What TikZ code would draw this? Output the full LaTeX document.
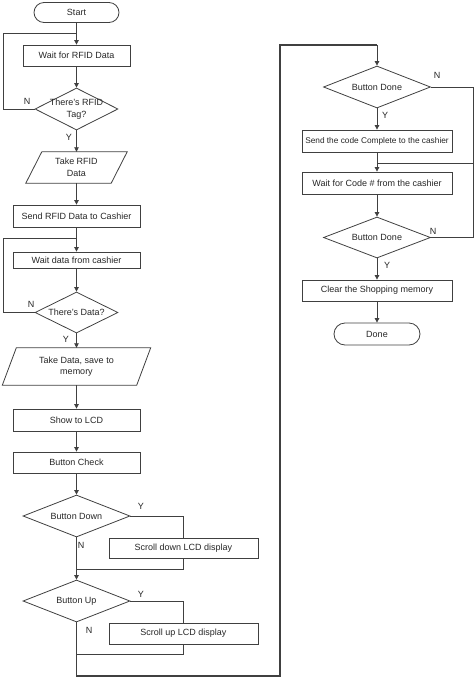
\documentclass[tikz,border=0pt]{standalone}
\usepackage{fontspec}
\setmainfont{Liberation Sans}
\usetikzlibrary{shapes.geometric,arrows.meta}
\begin{document}
\begin{tikzpicture}[x=1pt,y=-1pt,
 every node/.style={font=\fontsize{9}{12}\selectfont, text=black!85},
 box/.style={draw=black!75, line width=0.8pt, rectangle, inner sep=0pt, align=center},
 term/.style={box, rounded corners=10pt},
 dia/.style={draw=black!75, line width=0.8pt, diamond, inner sep=0pt},
 io/.style={inner sep=0pt, align=center, font=\fontsize{9}{11.5}\selectfont},
 line/.style={draw=black!75, line width=0.8pt},
 arr/.style={line, -{Triangle[length=4.5pt,width=4.5pt]}},
 lab/.style={inner sep=0pt}]
\useasboundingbox (0,0) rectangle (474,678);
% left column
\node[term, minimum width=85, minimum height=20] (start) at (76.5,12.5) {Start};
\node[box, minimum width=107, minimum height=21] (w1) at (76.5,55.5) {Wait for RFID Data};
\node[dia, minimum width=83, minimum height=42, label={[align=center]center:There's RFID\\Tag?}] (d1) at (76.5,109) {};
\node[io, minimum width=101, minimum height=31] (t1) at (76.5,167.5) {Take RFID\\Data};
\draw[line] (t1.south west) -- ([xshift=16]t1.north west) -- (t1.north east) -- ([xshift=-16]t1.south east) -- cycle;
\node[box, minimum width=127, minimum height=22] (s1) at (76.5,216) {Send RFID Data to Cashier};
\node[box, minimum width=127, minimum height=16] (w2) at (76.5,260) {Wait data from cashier};
\node[dia, minimum width=83, minimum height=41, label={center:There's Data?}] (d2) at (76.5,312.5) {};
\node[io, minimum width=148, minimum height=37] (t2) at (76.5,366.5) {Take Data, save to\\memory};
\draw[line] (t2.south west) -- ([xshift=14]t2.north west) -- (t2.north east) -- ([xshift=-14]t2.south east) -- cycle;
\node[box, minimum width=127, minimum height=22] (lcd) at (76.5,420) {Show to LCD};
\node[box, minimum width=127, minimum height=21] (chk) at (76.5,462.5) {Button Check};
\node[dia, minimum width=107, minimum height=42, label={center:Button Down}] (dd) at (76.5,516) {};
\node[box, minimum width=149, minimum height=20] (sd) at (183.5,548) {Scroll down LCD display};
\node[dia, minimum width=107, minimum height=42, label={center:Button Up}] (du) at (76.5,601) {};
\node[box, minimum width=149, minimum height=21] (su) at (183.5,633.5) {Scroll up LCD display};
% right column
\node[dia, minimum width=107, minimum height=42, label={center:Button Done}] (bd1) at (377,87) {};
\node[box, minimum width=150, minimum height=22, font=\fontsize{8.3}{10}\selectfont] (sc) at (377,141) {Send the code Complete to the cashier};
\node[box, minimum width=150, minimum height=22] (wc) at (377,183) {Wait for Code \# from the cashier};
\node[dia, minimum width=107, minimum height=41, label={center:Button Done}] (bd2) at (377,237.5) {};
\node[box, minimum width=150, minimum height=21] (cl) at (377,290.5) {Clear the Shopping memory};
\node[term, minimum width=86, minimum height=22, rounded corners=11pt] (done) at (377,334) {Done};
% junctions
\coordinate (j1) at (76.5,33);
\coordinate (j2) at (76.5,238);
\coordinate (j3) at (76.5,569);
\coordinate (j4) at (76.5,654);
\coordinate (j5) at (377,163);
\coordinate (j6) at (377,45);
% connectors
\draw[arr] (start) -- (w1);
\draw[arr] (w1) -- (d1);
\draw[line] (d1.west) -- (3,109) -- (3,33) -- (j1);
\draw[arr] (d1) -- (t1);
\draw[arr] (t1) -- (s1);
\draw[arr] (s1) -- (w2);
\draw[arr] (w2) -- (d2);
\draw[line] (d2.west) -- (3,312.5) -- (3,238) -- (j2);
\draw[arr] (d2) -- (t2);
\draw[arr] (t2) -- (lcd);
\draw[arr] (lcd) -- (chk);
\draw[arr] (chk) -- (dd);
\draw[line] (dd.east) -| (sd.north);
\draw[line] (sd.south) |- (j3);
\draw[arr] (dd) -- (du);
\draw[line] (du.east) -| (su.north);
\draw[line] (su.south) |- (j4);
\draw[line, line width=1.1pt] (du.south) -- (76.5,676) -- (280,676) -- (280,45) -- (j6);
\draw[arr] (j6) -- (bd1.north);
\draw[arr] (bd1) -- (sc);
\draw[line] (bd1.east) -- (473,87) -- (473,163) -- (j5);
\draw[arr] (sc) -- (wc);
\draw[arr] (wc) -- (bd2);
\draw[line] (bd2.east) -- (473,237.5) -- (473,163);
\draw[arr] (bd2) -- (cl);
\draw[arr] (cl) -- (done);
% labels
\node[lab] (l1) at (69,137) {Y};
\node[lab] (l2) at (27,101) {N};
\node[lab] (l3) at (31,304) {N};
\node[lab] (l4) at (66,339) {Y};
\node[lab] (l5) at (141,506) {Y};
\node[lab] (l6) at (81,545) {N};
\node[lab] (l7) at (141,594) {Y};
\node[lab] (l8) at (89,630) {N};
\node[lab] (l9) at (437,75) {N};
\node[lab] (l10) at (385,115) {Y};
\node[lab] (l11) at (433,231) {N};
\node[lab] (l12) at (387,265) {Y};
\end{tikzpicture}
\end{document}
